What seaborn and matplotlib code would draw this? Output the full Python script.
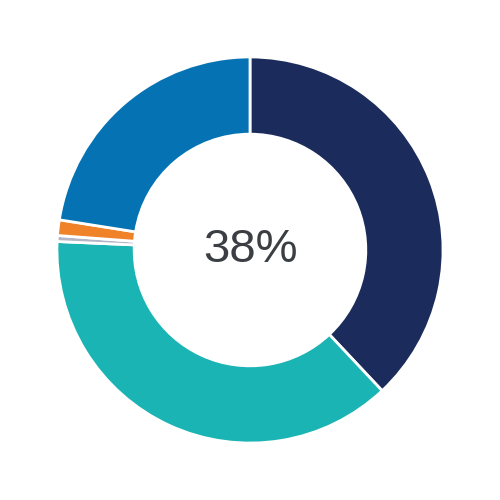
import matplotlib
matplotlib.use('Agg')
import matplotlib.pyplot as plt
import seaborn as sns

# segment shares, clockwise from 12 o'clock
labels = ['Navy', 'Teal', 'Grey', 'Orange', 'Blue']
shares = [38.0, 37.7, 0.5, 1.3, 22.5]
colors = ['#1b2b5b', '#1bb4b4', '#b4b6c8', '#f0822a', '#0573b3']
center_label = '38%'

sns.set_theme(style='white')
plt.rcParams['font.family'] = ['Liberation Sans', 'DejaVu Sans']

fig, ax = plt.subplots(figsize=(5, 5), dpi=100)
ax.pie(
  shares,
  colors = colors,
  startangle = 90,
  counterclock = False,
  radius = 1.0,
  wedgeprops = dict(width = 0.4, edgecolor = 'white', linewidth = 2)
)
ax.text(0, 0, center_label, ha='center', va='center',
        fontsize=34, color='#3b3f44')
ax.set_aspect('equal')
ax.set_xlim(-1.295, 1.295)
ax.set_ylim(-1.295, 1.295)
plt.subplots_adjust(left=0, right=1, top=1, bottom=0)
plt.savefig('out.png', dpi=100, facecolor='white')
